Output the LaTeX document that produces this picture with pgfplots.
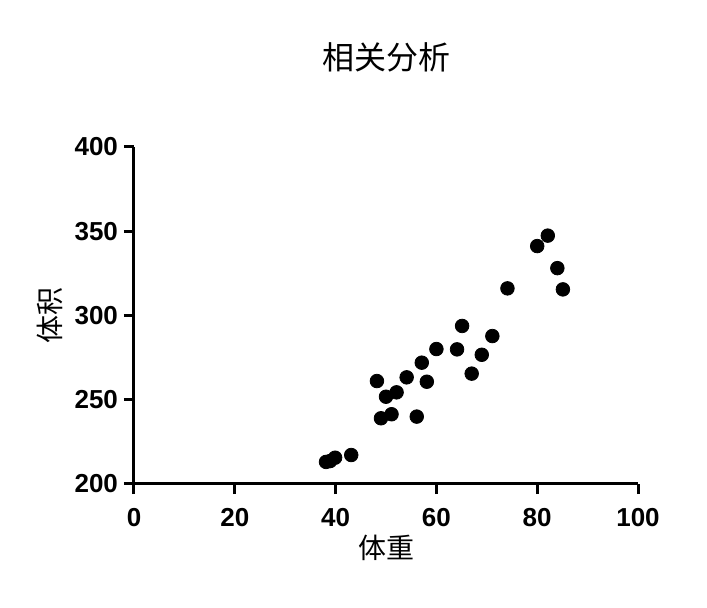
\documentclass[border=0pt]{standalone}
\usepackage{fontspec}
\setmainfont{Liberation Sans}
\newfontfamily\cjk{Noto Sans CJK SC}
\usepackage{pgfplots}
\pgfplotsset{compat=1.18}
\begin{document}
\begin{tikzpicture}
\path[use as bounding box] (-67bp,-62bp) rectangle (286.5bp,242bp);
\begin{axis}[
  at={(0,0)}, anchor=south west,
  scale only axis, width=252bp, height=168.5bp,
  xmin=0, xmax=100, ymin=200, ymax=400,
  axis x line*=bottom, axis y line*=left,
  axis line style={line width=1.5bp, black},
  xtick={0,20,...,100}, ytick={200,250,...,400},
  minor tick num=0,
  tick align=outside, major tick length=5bp,
  tick style={line width=1.5bp, black},
  /pgf/number format/assume math mode=true,
  tick label style={font=\fontsize{13bp}{15bp}\selectfont\bfseries, black},
  xticklabel style={yshift=-3.5bp},
  yticklabel style={xshift=0.5bp},
  clip=false,
  title={\cjk 相关分析},
  title style={at={(0.5,1)}, anchor=center, yshift=39bp, font=\fontsize{16bp}{18bp}\selectfont},
  xlabel={\cjk 体重},
  xlabel style={at={(0.5,0)}, anchor=center, yshift=-32bp, font=\fontsize{14bp}{16bp}\selectfont},
  ylabel={\cjk 体积},
  ylabel style={at={(0,0.5)}, anchor=center, rotate=0, yshift=42bp, font=\fontsize{14bp}{16bp}\selectfont},
]
\addplot[only marks, mark=*, mark size=3.4bp, black, mark options={fill=black, draw=black}] coordinates {
(38.1,213.1) (38.9,213.6) (39.9,215.6) (43.1,217.2)
(48.2,261.1) (50.0,251.8) (52.1,254.4) (49.0,239.0)
(51.1,241.4) (56.1,240.0) (54.1,263.3) (57.1,272.0)
(58.1,260.7) (60.0,280.1) (64.1,279.9) (65.1,293.8)
(67.0,265.5) (69.0,276.7) (71.1,287.8) (74.1,316.1)
(80.0,341.2) (82.1,347.4) (84.0,328.1) (85.1,315.5)
};
\end{axis}
\end{tikzpicture}
\end{document}
